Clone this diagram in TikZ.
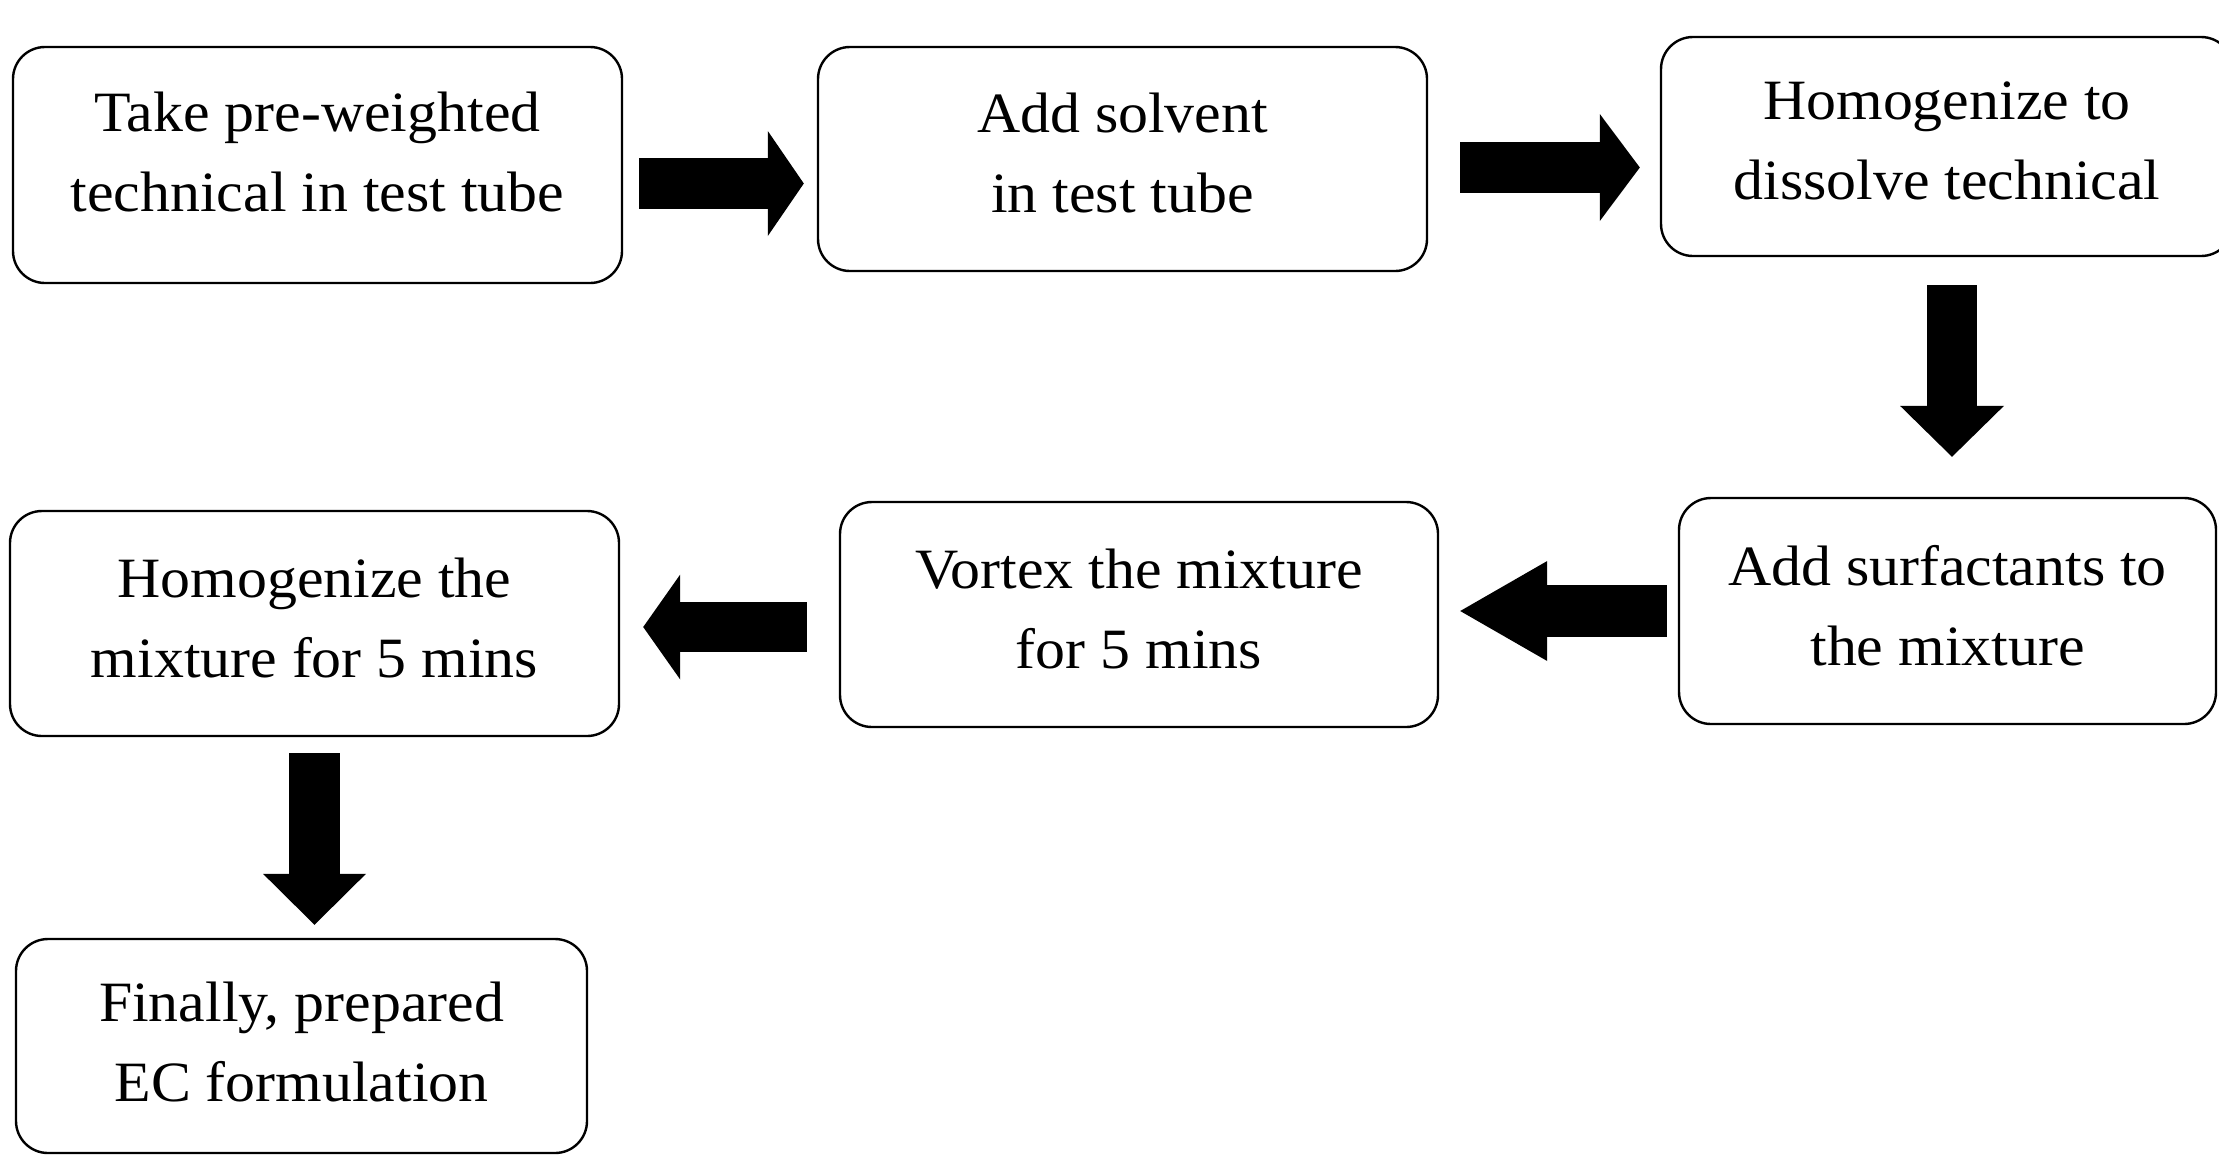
\documentclass[tikz,border=0pt]{standalone}
\usepackage{fontspec}
\setmainfont[FakeStretch=1.05]{Liberation Serif}
\usetikzlibrary{arrows.meta}
\tikzset{
  stepbox/.style={draw, line width=1.2pt, rounded corners=16pt, align=center,
    inner sep=0pt, text depth=6pt, font=\fontsize{28.5}{40}\selectfont},
  blk/.style n args={3}{line width=#1, -{Triangle[length=#2,width=#3,line width=0pt]}}
}
\begin{document}
\begin{tikzpicture}[x=0.5pt,y=-0.5pt]
\useasboundingbox (0,0) rectangle (2219,1157);
\clip (0,0) rectangle (2219,1157);
\node[stepbox, text depth=13pt, minimum width=304.5pt, minimum height=118pt] (b1) at (317.5,165) {Take pre-weighted\\technical in test tube};
\node[stepbox, minimum width=304.5pt, minimum height=112pt] (b2) at (1122.5,159) {Add solvent\\in test tube};
\node[stepbox, minimum width=286pt, minimum height=109.5pt] (b3) at (1947,146.5) {Homogenize to\\dissolve technical};
\node[stepbox, minimum width=268.5pt, minimum height=113pt] (b4) at (1947.5,611) {Add surfactants to\\the mixture};
\node[stepbox, minimum width=299pt, minimum height=112.5pt] (b5) at (1139,614.5) {Vortex the mixture\\for 5 mins};
\node[stepbox, minimum width=304.5pt, minimum height=112.5pt] (b6) at (314.5,623.5) {Homogenize the\\mixture for 5 mins};
\node[stepbox, text depth=4pt, minimum width=285.5pt, minimum height=107pt] (b7) at (301.5,1046) {Finally, prepared\\EC formulation};

\draw[blk={25.5pt}{18pt}{52.5pt}] ([shift={(16,18.5)}]b1.east) -- ([shift={(-13,24.5)}]b2.west);
\draw[blk={25.5pt}{20pt}{53.5pt}] ([shift={(32,8.5)}]b2.east) -- ([shift={(-20,21)}]b3.west);
\draw[blk={25pt}{25.5pt}{52pt}] ([shift={(5,28)}]b3.south) -- ([shift={(4.5,-40)}]b4.north);
\draw[blk={26pt}{43.5pt}{50pt}] ([shift={(-11,0)}]b4.west) -- ([shift={(21,-3.5)}]b5.east);
\draw[blk={25pt}{18.5pt}{52.5pt}] ([shift={(-32,12.5)}]b5.west) -- ([shift={(23,3.5)}]b6.east);
\draw[blk={25.5pt}{25.5pt}{51.5pt}] ([shift={(0,16)}]b6.south) -- ([shift={(13,-13)}]b7.north);
\end{tikzpicture}
\end{document}
